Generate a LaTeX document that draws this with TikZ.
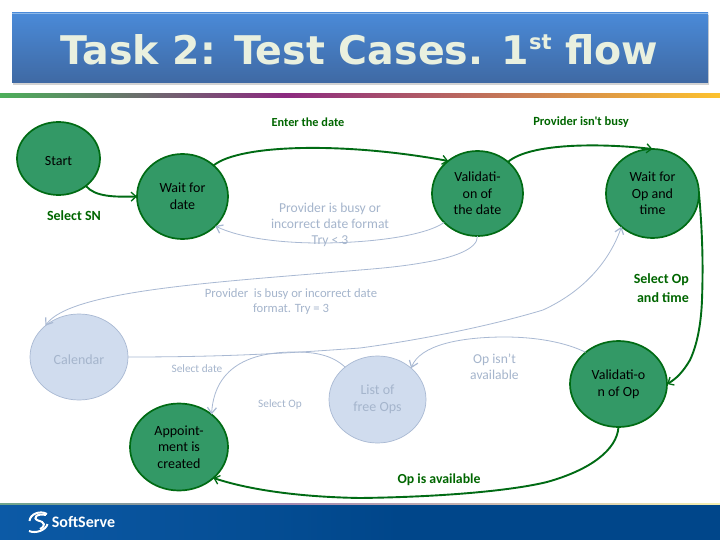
\documentclass[tikz,border=0pt]{standalone}
\usepackage{fontspec}
\setmainfont{Carlito}[Ligatures=TeXOff]
\newfontfamily\titlefont{DejaVu Sans}
\usetikzlibrary{shapes.geometric,arrows.meta}
\definecolor{nodegreen}{HTML}{339966}
\definecolor{edgegreen}{HTML}{006B14}
\definecolor{labelgreen}{HTML}{006600}
\definecolor{palefill}{HTML}{D0DCEE}
\definecolor{paleline}{HTML}{A9B9D3}
\definecolor{paletext}{HTML}{A5B5CC}
\definecolor{titletext}{HTML}{E9F0DF}
\definecolor{headtop}{HTML}{4A8AD8}
\definecolor{headbot}{HTML}{3F69A3}
\definecolor{headedge}{HTML}{8DB8E8}
\definecolor{rulegreen}{HTML}{4CAF5A}
\definecolor{rulepurple}{HTML}{8C2A80}
\definecolor{ruleorange}{HTML}{FDC22E}
\definecolor{thingreen}{HTML}{6FA58C}
\definecolor{thinpurple}{HTML}{A58AB0}
\definecolor{thinyellow}{HTML}{F5EFB0}
\definecolor{footleft}{HTML}{0C5AA6}
\definecolor{footright}{HTML}{00468A}
\tikzset{
  x=1pt,y=-1pt,
  state/.style={ellipse,inner sep=0pt,outer sep=0pt,align=center,font=\fontsize{14}{16.6}\selectfont,
    execute at begin node={\rule{0pt}{15pt}}},
  active/.style={state,draw=edgegreen,line width=1.7pt,fill=nodegreen,text=black},
  pale/.style={state,draw=paleline,line width=0.7pt,fill=palefill,text=paletext},
  greenedge/.style={draw=edgegreen,line width=1.9pt,-{Straight Barb[length=5pt,width=9pt,line width=1.3pt]}},
  paleedge/.style={draw=paleline,line width=0.8pt,-{Straight Barb[length=6pt,width=9pt,line width=1.2pt]}},
  greenlabel/.style={inner sep=0pt,align=center,text=labelgreen},
  palelabel/.style={inner sep=0pt,align=center,text=paletext,font=\fontsize{13.6}{16}\selectfont},
  smalllabel/.style={inner sep=0pt,align=center,text=paletext,font=\fontsize{11.3}{13}\selectfont},
}
\newcommand{\gfont}[1]{\fontsize{#1}{19}\selectfont\bfseries}
\begin{document}
\begin{tikzpicture}
\useasboundingbox (0,0) rectangle (720,540);
\fill[white] (0,0) rectangle (720,540);
% header
\fill[black!35,opacity=.5] (13,15) rectangle (709,85);
\shade[top color=headtop,bottom color=headbot] (12,13) rectangle (708,83);
\draw[headedge,line width=.6pt] (12,13.3) -- (708,13.3);
\node[inner sep=0pt,text=titletext,font=\titlefont\fontsize{39.5}{42}\selectfont\bfseries] (title) at (359.5,50) {Task 2: Test Cases. 1\raisebox{15pt}{\fontsize{21}{21}\selectfont st} flow};
% rainbow rule
\shade[left color=rulegreen,right color=rulepurple] (0,94) rectangle (285,98);
\shade[left color=rulepurple,right color=ruleorange] (285,94) rectangle (720,98);
% footer
\shade[left color=thingreen,right color=thinpurple] (0,503) rectangle (290,505);
\shade[left color=thinpurple,right color=thinyellow] (290,503) rectangle (720,505);
\fill[footright] (0,505) rectangle (720,540);
\shade[left color=footleft,right color=footright] (0,505) rectangle (400,540);
\draw[white,line width=2pt] (29.5,521) .. controls (30,514) and (40,510) .. (47,514);
\draw[white,line width=2pt] (46,515) .. controls (37,513) and (32,518) .. (38,520.5) .. controls (45,522) and (46,526) .. (40,529);
\draw[white,line width=2pt] (47.5,524) .. controls (46,530) and (36,534) .. (29,531);
\node[inner sep=0pt,text=white,font=\fontsize{16}{18}\selectfont\bfseries] (logo) at (83.5,522) {SoftServe};
% pale nodes first
\node[pale,minimum width=98pt,minimum height=86pt] (cal) at (79,357) {Calendar};
\node[pale,minimum width=97pt,minimum height=87pt] (list) at (377.5,399.5) {List of\\free Ops};
% green nodes
\node[active,minimum width=83pt,minimum height=73pt] (start) at (58.5,158.5) {Start};
\node[active,minimum width=91pt,minimum height=85pt] (waitd) at (182.5,196.5) {Wait for\\date};
\node[active,minimum width=91pt,minimum height=85pt] (vald) at (477.5,193.5) {Validati-\\on of\\the date};
\node[active,minimum width=93pt,minimum height=89pt] (waitop) at (652.5,193.5) {Wait for\\Op and\\time};
\node[active,minimum width=97pt,minimum height=86pt] (valop) at (618.5,384) {Validati-o\\n of Op};
\node[active,minimum width=98pt,minimum height=87pt] (app) at (179,447) {Appoint-\\ment is\\created};
% green connectors
\draw[greenedge] (start.-45) .. controls (95,197) and (115,197) .. (waitd.west);
\draw[greenedge] (waitd.45) .. controls (240,144) and (345,142) .. (vald.132);
\draw[greenedge] (vald.46) .. controls (530,143) and (600,143) .. (waitop.north);
\draw[greenedge] (waitop.east) .. controls (703,240) and (703,270) .. (702,300) .. controls (701,325) and (697,345) .. (690,360) .. controls (683,372) and (676,379) .. (valop.east);
\draw[greenedge] (valop.south) .. controls (617,450) and (590,470) .. (547,482) .. controls (510,491) and (440,497) .. (360,498) .. controls (300,497) and (250,490) .. (app.-42);
% pale connectors
\draw[paleedge] (vald.221) .. controls (425,236) and (370,243) .. (320,243) .. controls (280,243) and (240,238) .. (waitd.-42);
\draw[paleedge] (vald.south) .. controls (478,250) and (450,258) .. (427,262) .. controls (405,266) and (385,268) .. (360,270) .. controls (220,282) and (70,290) .. (cal.137);
\draw[paleedge] (cal.east) .. controls (230,357) and (290,353) .. (360,348) .. controls (420,340) and (490,326) .. (543,310) .. controls (580,293) and (608,265) .. (waitop.227);
\draw[paleedge] (list.135) .. controls (332,355) and (315,352) .. (295,352) .. controls (265,352) and (215,358) .. (app.45);
\draw[paleedge] (valop.136) .. controls (565,342) and (535,337) .. (505,337) .. controls (460,337) and (420,345) .. (list.43);
% labels
\node[greenlabel,font=\gfont{14}] (l1) at (74,215.5) {Select SN};
\node[greenlabel,font=\gfont{12.3}] (l2) at (308,122) {Enter the date};
\node[greenlabel,font=\gfont{12.5}] (l3) at (581,122) {Provider isn't busy};
\node[greenlabel,font=\gfont{14},align=right,anchor=east] (l4) at (689,288.5) {Select Op\\and time};
\node[greenlabel,font=\gfont{13.8}] (l5) at (439,479.5) {Op is available};
\node[palelabel] (l6) at (330,225) {Provider is busy or\\incorrect date format\\Try < 3};
\node[smalllabel,font=\fontsize{12.65}{15}\selectfont] (l7) at (291,302) {Provider\ \ is busy or incorrect date\\format. Try = 3};
\node[smalllabel] (l8) at (197,369) {Select date};
\node[smalllabel] (l9) at (280,404.5) {Select Op};
\node[palelabel] (l10) at (494.5,366.5) {Op isn’t\\available};
\end{tikzpicture}
\end{document}
